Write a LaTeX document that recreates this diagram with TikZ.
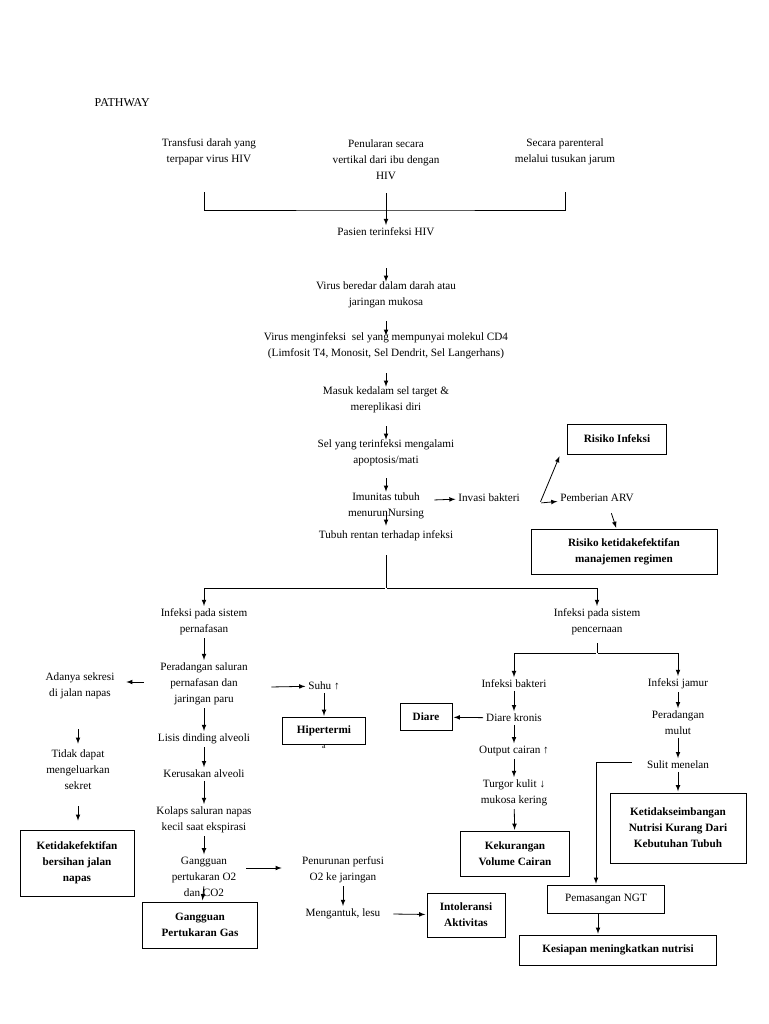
\documentclass[tikz,border=0pt]{standalone}
\usepackage{fontspec}
\setmainfont{Liberation Serif}
\begin{document}
\begin{tikzpicture}[x=0.75pt,y=-0.75pt,
 t/.style={align=center,font=\fontsize{8.4}{12}\selectfont,inner sep=1pt},
 b/.style={draw,semithick,align=center,font=\fontsize{8.4}{12}\selectfont\bfseries,inner sep=0pt},
 a/.style={-latex,semithick,shorten >=1pt,shorten <=1pt}, l/.style={semithick}]
\useasboundingbox (0,0) rectangle (768,1024);
\node[anchor=west,font=\fontsize{9}{12}\selectfont] (pw) at (90,103) {PATHWAY};
\node[t] (s1) at (209,152) {Transfusi darah yang\\terpapar virus HIV};
\node[t] (s2) at (386,160) {Penularan secara\\vertikal dari ibu dengan\\HIV};
\node[t] (s3) at (565,152) {Secara parenteral\\melalui tusukan jarum};
\coordinate (bl) at (204,192); \coordinate (br) at (565,192); \coordinate (bc) at (386,192);
\draw[l] (bl) |- (386,210) -| (br);
\node[t] (p1) at (386,232) {Pasien terinfeksi HIV};
\draw[a] (bc) -- (p1);
\node[t] (p2) at (386,295) {Virus beredar dalam darah atau\\jaringan mukosa};
\draw[a] (386,267) -- (386,283);
\node[t] (p3) at (386,346) {Virus menginfeksi\ \ sel yang mempunyai molekul CD4\\(Limfosit T4, Monosit, Sel Dendrit, Sel Langerhans)};
\draw[a] (386,320) -- (386,337);
\node[t] (p4) at (386,400) {Masuk kedalam sel target \&\\mereplikasi diri};
\draw[a] (386,372) -- (386,388);
\node[t] (p5) at (386,453) {Sel yang terinfeksi mengalami\\apoptosis/mati};
\draw[a] (386,425) -- (386,441);
\node[t] (p6) at (386,506) {Imunitas tubuh\\menurunNursing};
\draw[a] (386,477) -- (386,493);
\node[t] (p7) at (386,536) {Tubuh rentan terhadap infeksi};
\draw[a] (386,511) -- (386,527);
\node[t] (ib) at (489,498) {Invasi bakteri};
\draw[a] (433,500) -- (ib);
\node[b,minimum width=99pt*0.75,minimum height=30pt*0.75] (ri) at (617,439) {Risiko Infeksi};
\coordinate (fk) at (540,503);
\draw[a] (fk) -- (560,455);
\node[t] (arv) at (597,498) {Pemberian ARV};
\draw[a] (fk) -- (arv);
\node[b,minimum width=186pt*0.75,minimum height=45pt*0.75] (rk) at (624,552) {Risiko ketidakefektifan\\manajemen regimen};
\draw[a] (611,512) -- (rk);
\coordinate (sp) at (386,555);
\draw[l] (sp) -- (386,588);
\node[t] (L1) at (204,622) {Infeksi pada sistem\\pernafasan};
\node[t] (R1) at (597,622) {Infeksi pada sistem\\pencernaan};
\draw[a] (386,588) -| (L1);
\draw[a] (386,588) -| (R1);
\node[t] (L2) at (204,684) {Peradangan saluran\\pernafasan dan\\jaringan paru};
\draw[a] (L1) -- (L2);
\node[t] (ad) at (80,686) {Adanya sekresi\\di jalan napas};
\draw[a] (145,682) -- (125,682);
\node[t] (su) at (324,686) {Suhu ↑};
\draw[a] (270,687) -- (su);
\node[b,minimum width=83pt*0.75,minimum height=27pt*0.75] (hp) at (324,731) {Hipertermi};
\node[t,font=\fontsize{6}{7}\selectfont] (ha) at (324,747) {a};
\draw[a] (su) -- (hp);
\node[t] (L3) at (204,739) {Lisis dinding alveoli};
\draw[a] (L2) -- (L3);
\node[t] (L4) at (204,774) {Kerusakan alveoli};
\draw[a] (L3) -- (L4);
\node[t] (L5) at (204,820) {Kolaps saluran napas\\kecil saat ekspirasi};
\draw[a] (L4) -- (L5);
\node[t] (L6) at (204,877) {Gangguan\\pertukaran O2\\dan CO2};
\draw[a] (L5) -- (L6);
\node[b,minimum width=115pt*0.75,minimum height=46pt*0.75] (gg) at (200,925) {Gangguan\\Pertukaran Gas};
\draw[a] (204,885) -- (gg);
\node[t] (pp) at (343,870) {Penurunan perfusi\\O2 ke jaringan};
\draw[a] (245,868) -- (283,868);
\node[t] (ml) at (343,914) {Mengantuk, lesu};
\draw[a] (pp) -- (ml);
\node[b,minimum width=78pt*0.75,minimum height=44pt*0.75] (ia) at (466,915) {Intoleransi\\Aktivitas};
\draw[a] (392,914) -- (ia);
\node[t] (td) at (78,770) {Tidak dapat\\mengeluarkan\\sekret};
\draw[a] (78,728) -- (78,745);
\node[b,minimum width=114pt*0.75,minimum height=66pt*0.75] (kb) at (77,863) {Ketidakefektifan\\bersihan jalan\\napas};
\draw[a] (78,805) -- (78,822);
\coordinate (rs) at (597,643);
\draw[l] (rs) -- (597,653);
\node[t] (ib2) at (514,684) {Infeksi bakteri};
\node[t] (ij) at (678,684) {Infeksi jamur};
\draw[a] (597,653) -| (ib2);
\draw[a] (597,653) -| (ij);
\node[t] (dk) at (514,718) {Diare kronis};
\draw[a] (ib2) -- (dk);
\node[b,minimum width=52pt*0.75,minimum height=27pt*0.75] (di) at (426,717) {Diare};
\draw[a] (dk) -- (di);
\node[t] (oc) at (514,751) {Output cairan ↑};
\draw[a] (dk) -- (oc);
\node[t] (tk) at (514,793) {Turgor kulit ↓\\mukosa kering};
\draw[a] (oc) -- (tk);
\node[b,minimum width=109pt*0.75,minimum height=45pt*0.75] (kv) at (515,854) {Kekurangan\\Volume Cairan};
\draw[a] (tk) -- (kv);
\node[t] (pm) at (678,723) {Peradangan\\mulut};
\draw[a] (ij) -- (pm);
\node[t] (sm) at (678,765) {Sulit menelan};
\draw[a] (pm) -- (sm);
\node[b,minimum width=136pt*0.75,minimum height=70pt*0.75] (kn) at (678,828) {Ketidakseimbangan\\Nutrisi Kurang Dari\\Kebutuhan Tubuh};
\draw[a] (sm) -- (kn);
\node[draw,semithick,t,minimum width=117pt*0.75,minimum height=28pt*0.75] (ngt) at (606,899) {Pemasangan NGT};
\draw[a] (633,762) -- (596,762) -- (596,885);
\node[b,minimum width=197pt*0.75,minimum height=30pt*0.75] (ks) at (618,950) {Kesiapan meningkatkan nutrisi};
\draw[a] (598,913) -- (598,935);
\end{tikzpicture}
\end{document}
